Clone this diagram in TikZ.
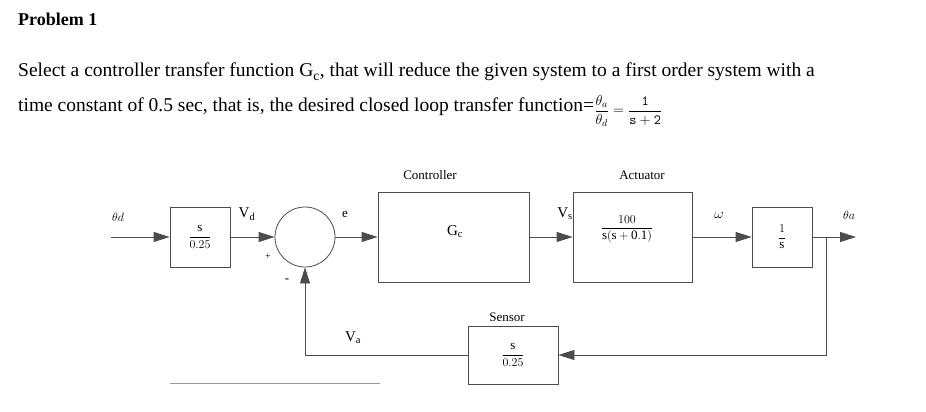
\documentclass[tikz,border=0pt]{standalone}
\usepackage{fontspec}
\setmainfont{Liberation Serif}
\usepackage{amsmath}
\usetikzlibrary{arrows.meta}
\begin{document}
\begin{tikzpicture}[x=1pt,y=-1pt,
  blk/.style={draw=black!70,line width=0.8pt,minimum width=#1,inner sep=0pt},
  ln/.style={draw=black!70,line width=0.8pt},
  ar/.style={ln,-{Triangle[length=16pt,width=10pt]}},
  lab/.style={font=\fontsize{13}{13}\selectfont},
  txt/.style={font=\fontsize{19.5}{22}\selectfont,anchor=base west,inner sep=0pt}]
\useasboundingbox (0,0) rectangle (926,412);
\node[txt,font=\fontsize{18}{20}\selectfont\bfseries] (title) at (18,26) {Problem 1};
\node[txt] (l1) at (18,77) {Select a controller transfer function G\textsubscript{c}, that will reduce the given system to a first order system with a};
\node[txt] (l2) at (18,111) {time constant of 0.5 sec, that is, the desired closed loop transfer function=};
\node[anchor=west,inner sep=0pt,font=\fontsize{14}{14}\selectfont] (eq) at (l2.base east) {$\displaystyle\frac{\theta_a}{\theta_d}=\frac{\mathtt{1}}{\mathtt{s+2}}$};
% blocks
\node[blk=60pt,minimum height=60pt] (b1) at (200,237) {\fontsize{13}{13}\selectfont$\displaystyle\frac{\mathrm{s}}{0.25}$};
\node[circle,draw=black!70,line width=0.8pt,minimum size=60pt,inner sep=0pt] (sum) at (305,237) {};
\node[blk=151pt,minimum height=90pt] (ctrl) at (453.5,237) {};
\node[lab,font=\fontsize{15}{15}\selectfont] (gc) at (455,232) {G\textsubscript{c}};
\node[blk=119pt,minimum height=90pt] (act) at (632.5,237) {};
\node[lab,font=\fontsize{13}{13}\selectfont] (tf) at (627,229) {$\displaystyle\frac{100}{\mathrm{s(s+0.1)}}$};
\node[blk=60pt,minimum height=60pt] (b3) at (782,237) {\fontsize{13}{13}\selectfont$\displaystyle\frac{1}{\mathrm{s}}$};
\node[blk=90pt,minimum height=58pt] (sens) at (513,355) {\fontsize{13}{13}\selectfont$\displaystyle\frac{\mathrm{s}}{0.25}$};
% labels
\node[lab] at (430,175) {Controller};
\node[lab] at (642,175) {Actuator};
\node[lab] at (507,317) {Sensor};
\node[lab] at (118,217) {$\theta d$};
\node[lab,font=\fontsize{15}{15}\selectfont] at (247,214) {V\textsubscript{d}};
\node[lab] at (345,214) {e};
\node[lab,font=\fontsize{15}{15}\selectfont] at (565,214) {V\textsubscript{s}};
\node[lab,font=\fontsize{15}{15}\selectfont] at (719,215) {$\omega$};
\node[lab] at (849,215) {$\theta a$};
\node[lab,font=\fontsize{15}{15}\selectfont] at (353,338) {V\textsubscript{a}};
\node[lab,font=\fontsize{10}{10}\selectfont] at (268,257) {+};
\node[lab] at (287,281) {-};
% connectors
\coordinate (in) at (111,237);
\coordinate (out) at (856,237);
\coordinate (br) at (826,237);
\draw[ar] (in) -- (b1.west);
\draw[ar] (b1.east) -- (sum.west);
\draw[ar] (sum.east) -- (ctrl.west);
\draw[ar] (ctrl.east) -- (act.west);
\draw[ar] (act.east) -- (b3.west);
\draw[ar] (b3.east) -- (out);
\draw[ar] (br) |- (sens.east);
\draw[ar] (sens.west) -| (sum.south);
\coordinate (s1) at (170,383);
\coordinate (s2) at (380,383);
\draw[ln,black!40] (s1) -- (s2);
\end{tikzpicture}
\end{document}
